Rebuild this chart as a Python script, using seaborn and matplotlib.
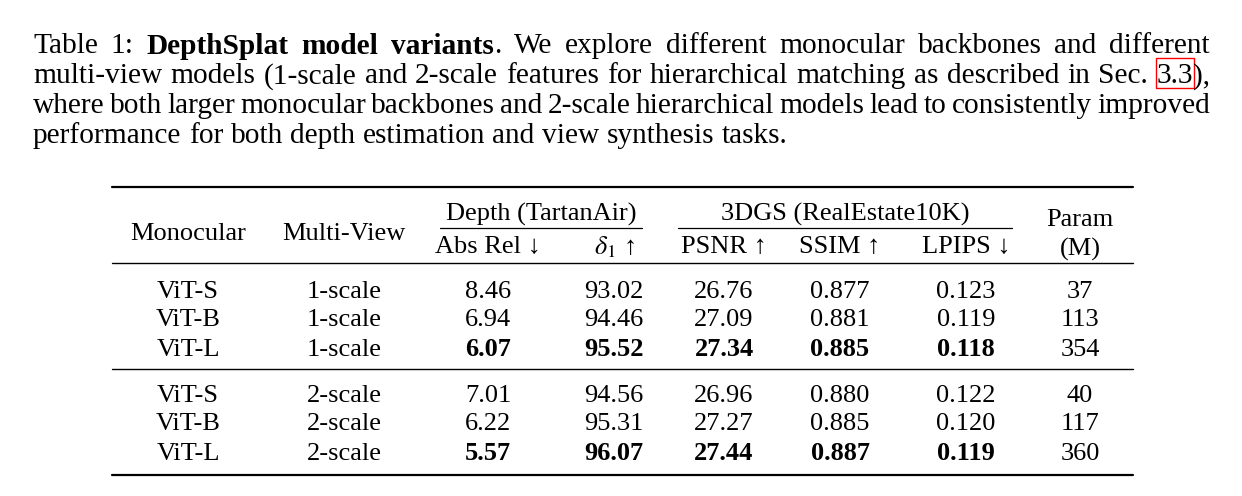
import matplotlib
matplotlib.use("Agg")
import matplotlib.pyplot as plt
import seaborn as sns

sns.set_theme(style="white")
plt.rcParams['font.family'] = ['Liberation Serif', 'DejaVu Serif']
plt.rcParams['mathtext.fontset'] = 'stix'
plt.rcParams['text.color'] = 'black'

monocular = ["ViT-S", "ViT-B", "ViT-L", "ViT-S", "ViT-B", "ViT-L"]
multiview = ["1-scale", "1-scale", "1-scale", "2-scale", "2-scale", "2-scale"]
absrel = ["8.46", "6.94", "6.07", "7.01", "6.22", "5.57"]
delta1 = ["93.02", "94.46", "95.52", "94.56", "95.31", "96.07"]
psnr = ["26.76", "27.09", "27.34", "26.96", "27.27", "27.44"]
ssim = ["0.877", "0.881", "0.885", "0.880", "0.885", "0.887"]
lpips = ["0.123", "0.119", "0.118", "0.122", "0.120", "0.119"]
param = ["37", "113", "354", "40", "117", "360"]
bold_rows = [2, 5]
sub_headers = ["Abs Rel ↓", r"$\delta_1$ ↑", "PSNR ↑", "SSIM ↑", "LPIPS ↓"]

W, H = 1242, 496
fig = plt.figure(figsize=(W/100, H/100), dpi=100)
ax = fig.add_axes([0, 0, 1, 1])
ax.set_xlim(0, W); ax.set_ylim(H, 0); ax.axis('off')

cap_lines = [
    [[("Table", False)], [("1:", False)], [("DepthSplat", True)], [("model", True)], [("variants", True), (".", False)],
     [("We", False)]] + [[(w, False)] for w in "explore different monocular backbones and different".split()],
    [[(w, False)] for w in "multi-view models (1-scale and 2-scale features for hierarchical matching as described in Sec.".split()]
    + [[("3.3", False, "box"), ("),", False)]],
    [[(w, False)] for w in "where both larger monocular backbones and 2-scale hierarchical models lead to consistently improved".split()],
    [[(w, False)] for w in "performance for both depth estimation and view synthesis tasks.".split()],
]
cap_y = [43, 73, 103, 133]
x0, x1 = 33, 1210
fs_cap = 21.2
fig.canvas.draw()
r = fig.canvas.get_renderer()

def width(s, bold):
    t = ax.text(0, 0, s, fontsize=fs_cap, fontweight='bold' if bold else 'normal')
    w = t.get_window_extent(r).width
    t.remove()
    return w

space = width("a b", False) - width("ab", False)
for li, (line, y) in enumerate(zip(cap_lines, cap_y)):
    ws = [sum(width(seg[0], seg[1]) for seg in word) for word in line]
    if li < len(cap_lines) - 1:
        gap = (x1 - x0 - sum(ws)) / (len(line) - 1)
    else:
        gap = space
    x = x0
    for word, w in zip(line, ws):
        xx = x
        for seg in word:
            ax.text(xx, y, seg[0], fontsize=fs_cap, fontweight='bold' if seg[1] else 'normal',
                    va='center_baseline', ha='left', color='black')
            sw = width(seg[0], seg[1])
            if len(seg) > 2:
                ax.add_patch(plt.Rectangle((xx - 1, y - 15), sw + 2, 30, fill=False, ec='red', lw=1))
            xx += sw
        x += w + gap

# table
fs = 19
L, R = 112, 1133
ax.plot([L, R], [187, 187], color='black', lw=1.6)
ax.plot([L, R], [263, 263], color='black', lw=1.0)
ax.plot([L, R], [369, 369], color='black', lw=1.0)
ax.plot([L, R], [475, 475], color='black', lw=1.6)
ax.plot([440, 642], [228, 228], color='black', lw=0.9)
ax.plot([678, 1012], [228, 228], color='black', lw=0.9)

cols = [188, 344, 488, 614, 724, 840, 966, 1080]
kw = dict(fontsize=fs, ha='center', va='center_baseline', color='black')
ax.text(cols[0], 232, "Monocular", **kw)
ax.text(cols[1], 232, "Multi-View", **kw)
ax.text(541, 212, "Depth (TartanAir)", **kw)
ax.text(845, 212, "3DGS (RealEstate10K)", **kw)
ax.text(cols[7], 217, "Param", **kw)
ax.text(cols[7], 247, "(M)", **kw)
for c, h in zip(cols[2:7], sub_headers):
    ax.text(c, 244, h, **kw)

row_y = [289, 318, 347, 393, 422, 451]
for i, y in enumerate(row_y):
    vals = [monocular[i], multiview[i], absrel[i], delta1[i], psnr[i], ssim[i], lpips[i], param[i]]
    for j, (c, v) in enumerate(zip(cols, vals)):
        b = (i in bold_rows) and 2 <= j <= 6
        ax.text(c, y, v, fontweight='bold' if b else 'normal', **kw)

fig.savefig("out.png", dpi=100, facecolor='white')
